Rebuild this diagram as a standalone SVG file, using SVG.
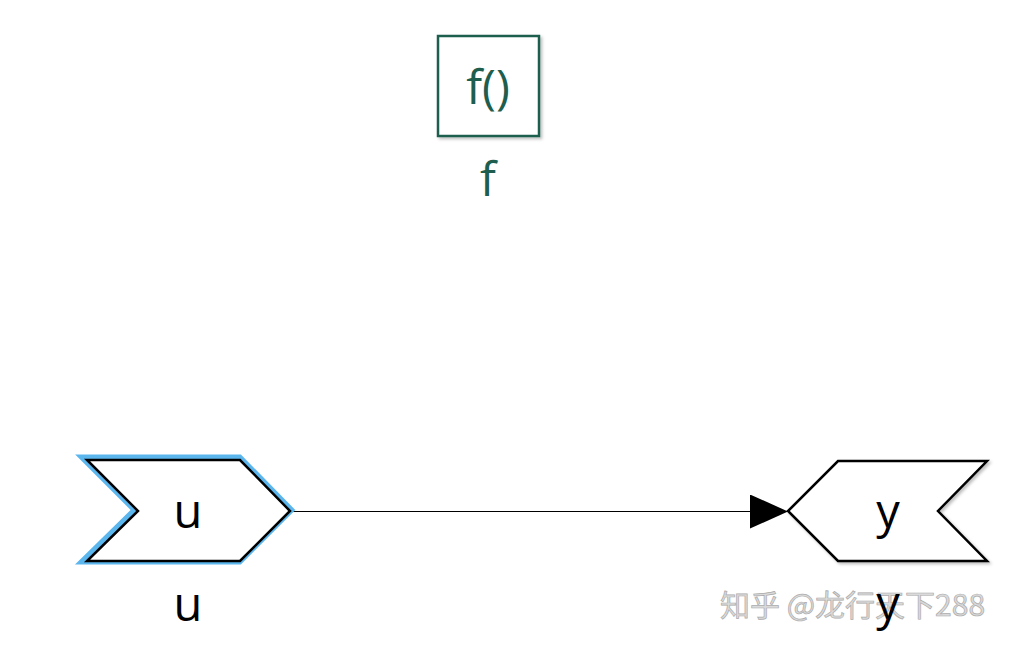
<svg xmlns="http://www.w3.org/2000/svg" width="1010" height="646" viewBox="0 0 1010 646">
<defs>
<style>
.t{font-family:"Open Sans","Noto Sans",sans-serif;font-size:47px;text-anchor:middle}
.g{fill:#1e5e4e}
.k{fill:#000}
.blk{fill:#fff;stroke:#000;stroke-width:2.5;stroke-linejoin:miter}
.wm{font-family:"Noto Sans CJK SC","Noto Sans",sans-serif;font-size:30px;fill:#dadada;stroke:#ababab;stroke-width:0.7}
</style>
<filter id="sh" x="-10%" y="-10%" width="130%" height="130%">
<feDropShadow dx="2" dy="2" stdDeviation="1.5" flood-color="#000" flood-opacity="0.25"/>
</filter>
<marker id="arr" markerWidth="38" markerHeight="34" refX="38" refY="17" orient="auto" markerUnits="userSpaceOnUse">
<path d="M0,0 L38,17 L0,34 Z" fill="#000"/>
</marker>
</defs>
<rect width="1010" height="646" fill="#fff"/>
<text class="wm" x="720" y="616">知乎 @龙行天下288</text>
<g id="connectors">
<line x1="290" y1="511.5" x2="788" y2="511.5" stroke="#000" stroke-width="1" marker-end="url(#arr)"/>
</g>
<g id="f">
<rect x="438" y="36" width="101" height="100" fill="#fff" stroke="#1e5e4e" stroke-width="2.5" filter="url(#sh)"/>
<text class="t g" x="488" y="104">f()</text>
<text class="t g" x="488" y="196">f</text>
</g>
<g id="u">
<polygon points="87,460 240,460 290,511 240,561 87,561 138,511" fill="none" stroke="#5cb6ee" stroke-width="9" transform="translate(-1,-1)"/>
<polygon class="blk" points="87,460 240,460 290,511 240,561 87,561 138,511"/>
<text class="t k" x="188" y="528">u</text>
<text class="t k" x="188" y="621">u</text>
</g>
<g id="y">
<polygon class="blk" points="838,461 987,461 938,511 987,561 838,561 788,511" filter="url(#sh)"/>
<text class="t k" x="888" y="528">y</text>
<text class="t k" x="888" y="620">y</text>
</g>
</svg>
